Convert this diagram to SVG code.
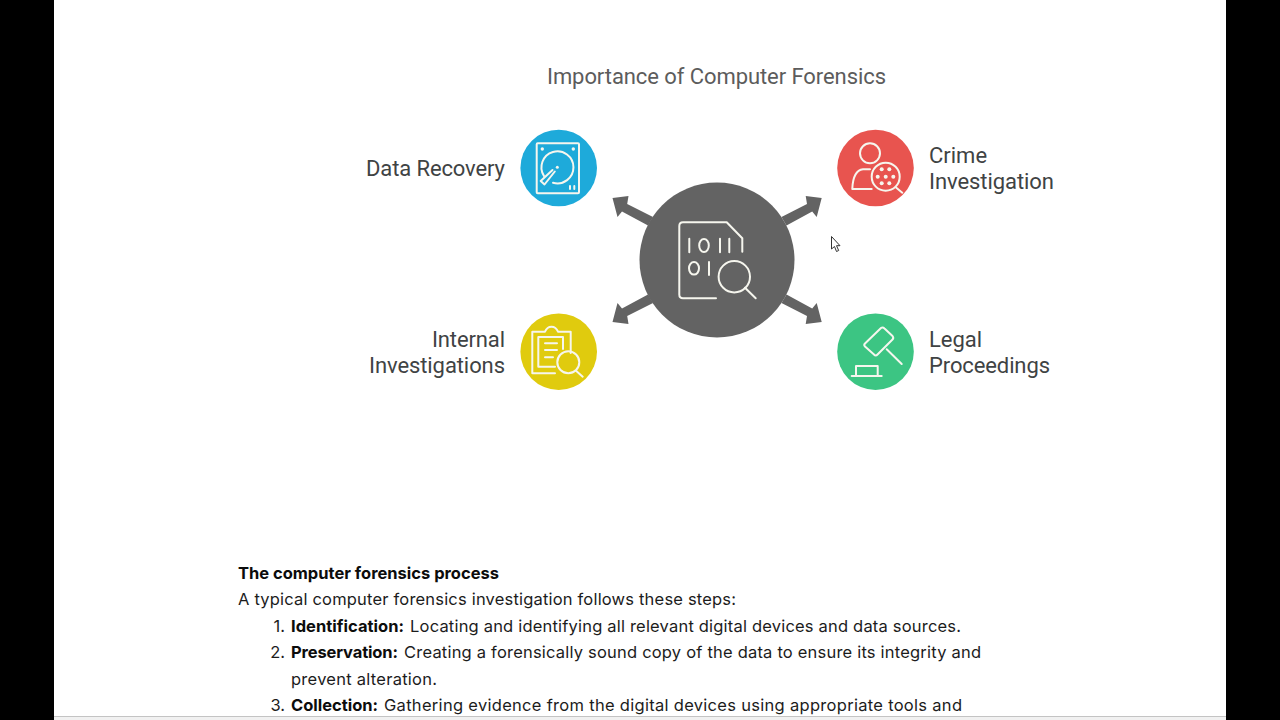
<svg xmlns="http://www.w3.org/2000/svg" width="1280" height="720" viewBox="0 0 1280 720">
<style>
.ic{fill:none;stroke:#f6f6ee;stroke-width:2;stroke-linecap:round;stroke-linejoin:round}
.d{fill:#f6f6ee;stroke:none}
.t{font-family:Roboto,"Liberation Sans",sans-serif;font-size:22px;fill:#3f4344}
.b{font-family:Inter,"Liberation Sans",sans-serif;font-size:16.5px;fill:#1c1c1c}
.bb{font-weight:700;fill:#0c0c0c}
.ar{fill:#636363}
</style>
<rect width="1280" height="720" fill="#fff"/>
<rect x="0" y="0" width="54" height="720" fill="#000"/>
<rect x="1226" y="0" width="54" height="720" fill="#000"/>
<rect x="54" y="716" width="1172" height="1.2" fill="#c4c4c4"/>
<rect x="54" y="717.2" width="1172" height="2.8" fill="#f1f1f1"/>
<text id="title" x="716.5" y="83.500" text-anchor="middle" font-family="Roboto,'Liberation Sans',sans-serif" font-size="22" fill="#5c5c5c" textLength="339">Importance of Computer Forensics</text>
<g id="connectors">
<polygon class="ar" points="612.500,198 628.500,196 627.200,204 653,217 648,225.500 622,211.500 617.500,217"/>
<polygon class="ar" points="821.700,198 805.700,196 807,204 781.500,217 786.500,225.500 812.200,211.500 816.700,217"/>
<polygon class="ar" points="612.500,322 628.500,324 627.200,316 653,303 648,294.500 622,308.500 617.500,303"/>
<polygon class="ar" points="821.700,322 805.700,324 807,316 781.500,303 786.500,294.500 812.200,308.500 816.700,303"/>
</g>
<g id="center">
<circle cx="717" cy="260" r="77.500" fill="#636363"/>
<path class="ic" d="M716 298.300H683Q679.300 298.300 679.300 294.500V226Q679.300 222.300 683 222.300H726.700L742.300 238.300V251.700"/>
<path class="ic" d="M689.300 238.800V252.200M720 238.800V252.200M729.300 238.800V252.200M709 262V275"/>
<ellipse class="ic" cx="704" cy="245.500" rx="4.800" ry="6.500"/>
<ellipse class="ic" cx="694" cy="268.300" rx="5" ry="6.300"/>
<circle class="ic" cx="734.300" cy="276.700" r="15.700"/>
<path class="ic" d="M745 287.700L755.700 298.300"/>
</g>
<g id="data-recovery">
<circle cx="558.700" cy="168" r="38.300" fill="#1eaada"/>
<rect class="ic" x="536.700" y="143.300" width="42.300" height="50" rx="1"/>
<circle class="d" cx="542.300" cy="149" r="1.700"/>
<circle class="d" cx="573.300" cy="149" r="1.700"/>
<circle class="d" cx="557.300" cy="167.300" r="1.500"/>
<path class="ic" d="M544 176A16 16 0 1 1 553 182.700"/>
<path class="ic" d="M554.800 171.500L544.500 184.500L540.700 181L552.500 170"/>
<path class="ic" d="M570 186V189M574.300 186V189"/>
<text class="t" x="505" y="175.500" text-anchor="end" textLength="139">Data Recovery</text>
</g>
<g id="crime-investigation">
<circle cx="875.500" cy="168" r="38.300" fill="#e8544f"/>
<circle class="ic" cx="870" cy="153.300" r="10"/>
<path class="ic" d="M870 169.300H863Q853 170.500 852.300 189H871.700"/>
<circle class="ic" cx="885.700" cy="176.700" r="14"/>
<path class="ic" d="M895.700 187.300L902.300 192.700"/>
<g class="d"><circle cx="885.700" cy="176.700" r="2"/><circle cx="877.700" cy="176.700" r="2"/><circle cx="893.300" cy="176.700" r="2"/><circle cx="881.700" cy="169.300" r="2"/><circle cx="889.300" cy="169.300" r="2"/><circle cx="881.700" cy="183.300" r="2"/><circle cx="889.300" cy="183.300" r="2"/></g>
<text class="t" x="929" y="162.500">Crime</text>
<text class="t" x="929" y="188.500" textLength="125">Investigation</text>
</g>
<g id="internal-investigations">
<circle cx="558.700" cy="351.700" r="38.300" fill="#e0cb0e"/>
<path class="ic" d="M555 373.300H532.300V331.700H545Q547 326.700 551.500 326.700Q556 326.700 558 331.700H570.700V353"/>
<path class="ic" d="M555 366.700H538.300V337H563V349"/>
<path class="ic" d="M545 343.300H557M545 350H557M545 357.300H553"/>
<circle class="ic" cx="568.300" cy="362.300" r="11"/>
<path class="ic" d="M576 370.700L582.700 376.700"/>
<text class="t" x="505" y="346.500" text-anchor="end" textLength="73">Internal</text>
<text class="t" x="505" y="372.500" text-anchor="end" textLength="136">Investigations</text>
</g>
<g id="legal-proceedings">
<circle cx="875.500" cy="351.700" r="38.300" fill="#3cc583"/>
<path class="ic" d="M865 343.500L881 328Q882.700 326.700 884.500 328.500L892.500 336Q894 338 892.500 339.500L877.500 354.500Q875.700 356.500 874 354.500L865 346.500Q863.500 345 865 343.500Z"/>
<path class="ic" d="M886.700 349.300L901.700 364"/>
<path class="ic" d="M856 376V366H877.700V376M851.700 376H881.700"/>
<text class="t" x="929" y="346.500">Legal</text>
<text class="t" x="929" y="372.500" textLength="121">Proceedings</text>
</g>
<g id="cursor">
<path d="M831.500 236.500V249L834.500 246.500L836.500 251.500L838.700 250.500L836.500 245.700H840Z" fill="#fff" stroke="#333" stroke-width="1"/>
</g>
<g id="body">
<text class="b bb" x="238" y="579" textLength="261">The computer forensics process</text>
<text class="b" x="238" y="605" textLength="498">A typical computer forensics investigation follows these steps:</text>
<text class="b" x="285" y="632" text-anchor="end">1.</text>
<text class="b bb" x="291" y="632" textLength="113">Identification:</text>
<text class="b" x="410" y="632" textLength="551">Locating and identifying all relevant digital devices and data sources.</text>
<text class="b" x="285" y="658" text-anchor="end">2.</text>
<text class="b bb" x="291" y="658" textLength="107">Preservation:</text>
<text class="b" x="404" y="658" textLength="577">Creating a forensically sound copy of the data to ensure its integrity and</text>
<text class="b" x="291" y="685" textLength="146">prevent alteration.</text>
<text class="b" x="285" y="711" text-anchor="end">3.</text>
<text class="b bb" x="291" y="711" textLength="87">Collection:</text>
<text class="b" x="384" y="711" textLength="578">Gathering evidence from the digital devices using appropriate tools and</text>
</g>
</svg>
